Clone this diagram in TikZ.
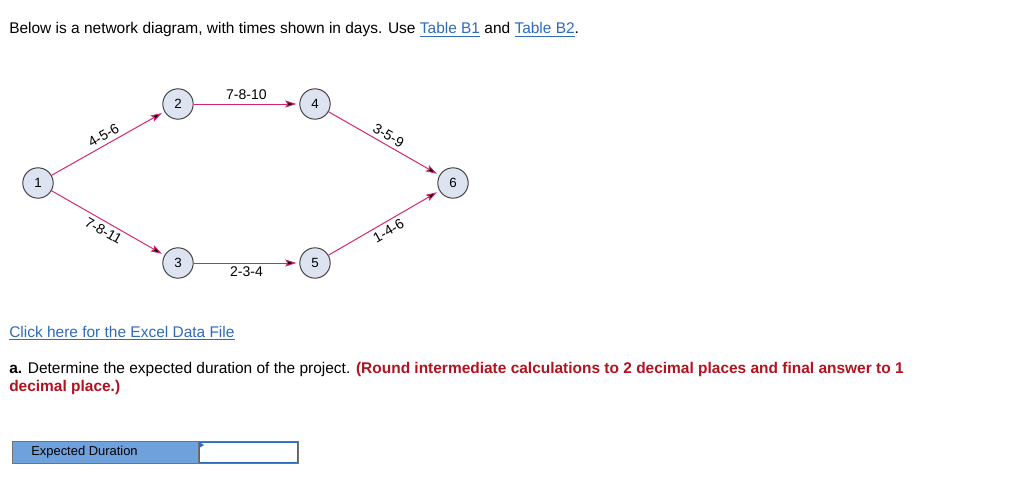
\documentclass[tikz,border=0pt]{standalone}
\usepackage{fontspec}
\setmainfont{Liberation Sans}
\usepackage{tikz}
\usetikzlibrary{arrows.meta}

\definecolor{arccol}{HTML}{D6236F}
\definecolor{nodefill}{HTML}{DDE3F0}
\definecolor{linkcol}{HTML}{2E6BB8}
\definecolor{notecol}{HTML}{B0121E}
\definecolor{boxfill}{HTML}{6FA2DD}

\begin{document}
\begin{tikzpicture}[x=0.025cm,y=-0.025cm,>={Stealth[length=8pt,width=5pt,inset=1.5pt]},
	event/.style={circle,draw=black!75,fill=nodefill,line width=0.7pt,minimum size=0.76cm,inner sep=0pt,font=\fontsize{9.5}{11}\selectfont},
	arc/.style={->,draw=arccol,line width=0.7pt,shorten >=2pt},
	dur/.style={font=\fontsize{10}{12}\selectfont,sloped,inner sep=2.5pt},
	txt/.style={anchor=west,inner sep=0pt,font=\fontsize{11}{13}\selectfont,align=left}]
	
	\useasboundingbox (0,0) rectangle (1028,485);
	
	% question text
	\node[txt] (intro) at (9,30) {Below is a network diagram, with times shown in days. Use \textcolor{linkcol}{\underline{Table B1}} and \textcolor{linkcol}{\underline{Table B2}}.};
	
	% network
	\node[event] (1) at (38,183) {1};
	\node[event] (2) at (178,104) {2};
	\node[event] (3) at (178,263) {3};
	\node[event] (4) at (315,104) {4};
	\node[event] (5) at (315,263) {5};
	\node[event] (6) at (453,183) {6};
	
	\path[arc]
	(1) edge node[dur,above] {4-5-6} (2)
	(1) edge node[dur,below] {7-8-11} (3)
	(2) edge node[dur,above] {7-8-10} (4)
	(3) edge node[dur,below] {2-3-4} (5)
	(4) edge node[dur,above] {3-5-9} (6)
	(5) edge node[dur,below] {1-4-6} (6);
	
	\node[txt] (excel) at (9,333) {\textcolor{linkcol}{\underline{Click here for the Excel Data File}}};
	\node[txt,anchor=north west] (parta) at (9,362) {\textbf{a.} Determine the expected duration of the project. \textcolor{notecol}{\textbf{(Round intermediate calculations to 2 decimal places and final answer to 1}}\\
	\textcolor{notecol}{\textbf{decimal place.)}}};
	
	% answer row
	\node[draw=black!55,fill=boxfill,line width=0.8pt,minimum width=4.65cm,minimum height=0.55cm,anchor=north west,inner sep=0pt] (label) at (12,441) {};
	\node[anchor=west,inner sep=0pt,font=\fontsize{9.2}{11}\selectfont] (labeltxt) at (31,452) {Expected Duration};
	\node[draw=black!55,fill=white,line width=0.8pt,minimum width=2.5cm,minimum height=0.55cm,anchor=north west,inner sep=0pt] (answer) at (198,441) {};
	\fill[linkcol] (answer.north west) ++(1,1) -- ++(5,3) -- ++(-5,3) -- cycle;
	\draw[linkcol,line width=0.5pt] ([shift={(1.5,1.5)}]answer.north west) rectangle ([shift={(-1.5,-1.5)}]answer.south east);
\end{tikzpicture}
\end{document}
